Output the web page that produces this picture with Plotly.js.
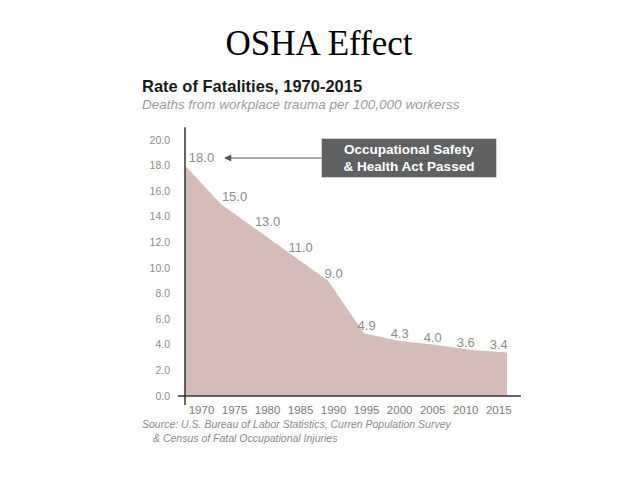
<!DOCTYPE html>
<html><head><meta charset="utf-8">
<script src="https://cdn.plot.ly/plotly-3.0.1.min.js"></script>
<style>html,body{margin:0;padding:0;background:#fff}#c{width:638px;height:478px}</style>
</head><body><div id="c"></div>
<script>
const years = [1970, 1975, 1980, 1985, 1990, 1995, 2000, 2005, 2010, 2015];
const rates = [18.0, 15.0, 13.0, 11.0, 9.0, 4.9, 4.3, 4.0, 3.6, 3.4];
const yearLabels = years.map(String);
const rateLabels = rates.map(v => v.toFixed(1));

const area = {
  x: years, y: rates, type: 'scatter', mode: 'lines', fill: 'tozeroy',
  fillcolor: '#d6bcb9', line: {color: '#d6bcb9', width: 0}, hoverinfo: 'skip', xaxis: 'x', yaxis: 'y'
};
const labels = {
  x: yearLabels, y: rates, type: 'scatter', mode: 'text', text: rateLabels,
  textposition: 'top center', textfont: {family: 'Liberation Sans, Arial, sans-serif', size: 13, color: '#8c8c8c'},
  xaxis: 'x2', yaxis: 'y', hoverinfo: 'skip', cliponaxis: false
};

const layout = {
  width: 638, height: 478, showlegend: false,
  paper_bgcolor: '#fff', plot_bgcolor: '#fff',
  margin: {l: 185, r: 131, t: 140, b: 82},
  title: {text: 'OSHA Effect', font: {family: 'Liberation Serif, Times New Roman, serif', size: 35, color: '#000'},
    x: 0.5, xanchor: 'center', y: 1 - 43/478, yref: 'container', yanchor: 'middle'},
  xaxis: {range: [1970, 2015], showgrid: false, zeroline: false, showticklabels: false, ticks: '', showline: false, fixedrange: true},
  xaxis2: {overlaying: 'x', type: 'category', range: [-0.5, 9.25], side: 'bottom', showgrid: false, zeroline: false,
    showline: false, ticks: '', ticklabelstandoff: 5,
    tickfont: {family: 'Liberation Sans, Arial, sans-serif', size: 11.5, color: '#7a7a7a'}},
  yaxis: {range: [0, 20], dtick: 2, tickformat: '.1f', showgrid: false, zeroline: false, showline: false, ticks: '',
    ticklabelstandoff: 14, tickfont: {family: 'Liberation Sans, Arial, sans-serif', size: 10.5, color: '#8a8a8a'}},
  shapes: [
    {type: 'line', xref: 'paper', yref: 'paper', x0: 0, x1: 0, y0: -0.035, y1: 1.05, line: {color: '#333', width: 1.5}},
    {type: 'line', xref: 'paper', yref: 'paper', x0: -0.022, x1: 1.043, y0: 0, y1: 0, line: {color: '#333', width: 1.5}}
  ],
  annotations: [
    {xref: 'paper', yref: 'paper', x: -0.139, y: (396-86)/256, xanchor: 'left', yanchor: 'middle', showarrow: false,
     text: '<b>Rate of Fatalities, 1970-2015</b>', font: {family: 'Liberation Sans, Arial, sans-serif', size: 16.5, color: '#1a1a1a'}},
    {xref: 'paper', yref: 'paper', x: -0.139, y: (396-104)/256, xanchor: 'left', yanchor: 'middle', showarrow: false,
     text: '<i>Deaths from workplace trauma per 100,000 workerss</i>', font: {family: 'Liberation Sans, Arial, sans-serif', size: 13.5, color: '#9a9a9a'}},
    {xref: 'paper', yref: 'paper', x: -0.139, y: (396-424)/256, xanchor: 'left', yanchor: 'middle', showarrow: false,
     text: '<i>Source: U.S. Bureau of Labor Statistics, Curren Population Survey</i>', font: {family: 'Liberation Sans, Arial, sans-serif', size: 10.5, color: '#8a8a8a'}},
    {xref: 'paper', yref: 'paper', x: -0.105, y: (396-438)/256, xanchor: 'left', yanchor: 'middle', showarrow: false,
     text: '<i>& Census of Fatal Occupational Injuries</i>', font: {family: 'Liberation Sans, Arial, sans-serif', size: 10.5, color: '#8a8a8a'}},
    {xref: 'paper', yref: 'paper', x: (224-185)/322, y: (396-158)/256, ax: 185, ay: 0, axref: 'pixel', ayref: 'pixel',
     showarrow: true, arrowhead: 2, arrowsize: 1.2, arrowwidth: 1.2, arrowcolor: '#555', standoff: 0,
     text: '<b>Occupational Safety<br>& Health Act Passed</b>', align: 'center',
     font: {family: 'Liberation Sans, Arial, sans-serif', size: 13.5, color: '#ffffff'},
     bgcolor: '#5f6062', bordercolor: '#d0d0d0', borderwidth: 1, borderpad: 3, width: 168, height: 32}
  ]
};
Plotly.newPlot('c', [area, labels], layout, {displayModeBar: false, staticPlot: true});
</script></body></html>
